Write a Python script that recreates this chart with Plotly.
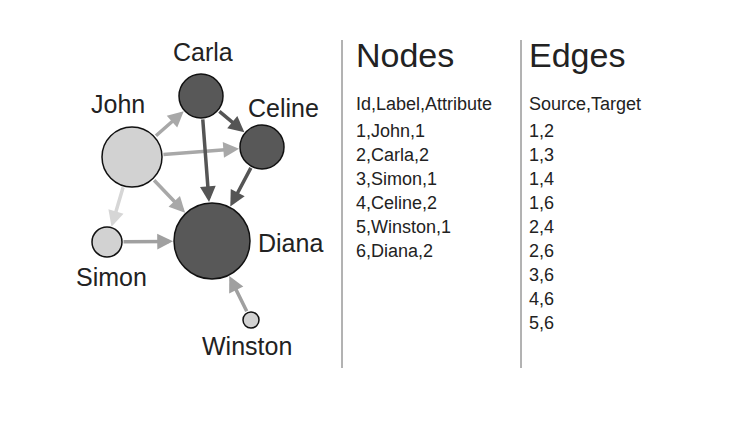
import numpy as np
import plotly.graph_objects as go

# node table
node_ids = [1, 2, 3, 4, 5, 6]
node_names = ["John", "Carla", "Simon", "Celine", "Winston", "Diana"]
node_attr = [1, 2, 1, 2, 1, 2]
node_x = [132, 201, 107, 262, 251, 212]
node_y = [157, 96, 242, 147, 320, 241]
node_r = [30, 22, 15, 22, 8, 38]
label_x = [118, 203, 111, 283, 247, 290]
label_y = [104, 52, 277, 108, 346, 243]

# edge table
edge_src = [1, 1, 1, 1, 2, 2, 3, 4, 5]
edge_tgt = [2, 3, 4, 6, 4, 6, 6, 6, 6]
edge_col = ["#a8a8a8", "#d6d6d6", "#a8a8a8", "#a8a8a8", "#555555",
            "#555555", "#a0a0a0", "#555555", "#a0a0a0"]

fill = {1: "#d2d2d2", 2: "#585858"}
W, H = 743, 423
OFF = 8  # page body margin
font = "Liberation Sans"

fig = go.Figure()

for s, t, c in zip(edge_src, edge_tgt, edge_col):
    i, j = s - 1, t - 1
    x0, y0, x1, y1 = node_x[i], node_y[i], node_x[j], node_y[j]
    d = np.hypot(x1 - x0, y1 - y0)
    ux, uy = (x1 - x0) / d, (y1 - y0) / d
    sx, sy = x0 + ux * node_r[i], y0 + uy * node_r[i]
    ex, ey = x1 - ux * (node_r[j] + 1), y1 - uy * (node_r[j] + 1)
    fig.add_annotation(x=ex, y=ey, ax=sx, ay=sy, xref="x", yref="y",
                       axref="x", ayref="y", showarrow=True, text="",
                       arrowhead=2, arrowsize=0.9, arrowwidth=3.5, arrowcolor=c)

fig.add_trace(go.Scatter(
    x=node_x, y=node_y, mode="markers", opacity=1,
    marker=dict(size=[2 * r for r in node_r], opacity=1,
                color=[fill[a] for a in node_attr],
                line=dict(color="#111", width=1.5)),
    hoverinfo="skip"))

for n, lx, ly in zip(node_names, label_x, label_y):
    fig.add_annotation(x=lx, y=ly, text=n, showarrow=False,
                       font=dict(family=font, size=25, color="#222"))

# tables
node_lines = ["Id,Label,Attribute"] + [f"{i},{n},{a}" for i, n, a in zip(node_ids, node_names, node_attr)]
edge_lines = ["Source,Target"] + [f"{s},{t}" for s, t in zip(edge_src, edge_tgt)]

for xt, title, lines in [(354, "Nodes", node_lines), (527, "Edges", edge_lines)]:
    fig.add_annotation(x=xt, y=55, text=title, showarrow=False, xanchor="left",
                       font=dict(family=font, size=34, color="#222"))
    for k, ln in enumerate(lines):
        y = 104 if k == 0 else 131 + (k - 1) * 24
        fig.add_annotation(x=xt, y=y, text=ln, showarrow=False, xanchor="left",
                           font=dict(family=font, size=18, color="#222"))

for xv in [342, 521]:
    fig.add_shape(type="line", x0=xv, x1=xv, y0=40, y1=368,
                  line=dict(color="#666", width=1))

fig.update_layout(
    width=W, height=H, autosize=False, showlegend=False,
    margin=dict(l=0, r=0, t=0, b=0),
    paper_bgcolor="white", plot_bgcolor="white",
    xaxis=dict(range=[OFF, W + OFF], visible=False, fixedrange=True),
    yaxis=dict(range=[H + OFF, OFF], visible=False, fixedrange=True),
)
fig.write_html("out.html")
